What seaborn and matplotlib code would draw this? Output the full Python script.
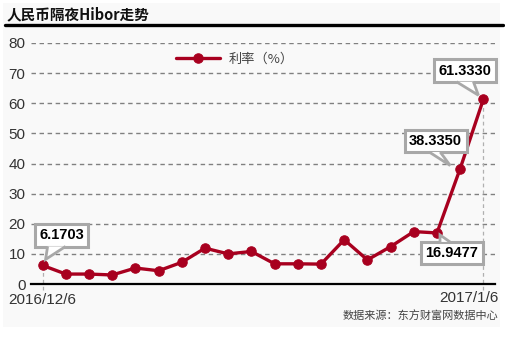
import numpy as np
import pandas as pd
import matplotlib
matplotlib.use("Agg")
import matplotlib.pyplot as plt
import seaborn as sns
from matplotlib.patches import Rectangle, Polygon
from matplotlib.lines import Line2D
from matplotlib.transforms import IdentityTransform

# data
dates = ['2016/12/6', '2016/12/7', '2016/12/8', '2016/12/9', '2016/12/12',
         '2016/12/13', '2016/12/14', '2016/12/15', '2016/12/16', '2016/12/19',
         '2016/12/20', '2016/12/21', '2016/12/22', '2016/12/23', '2016/12/28',
         '2016/12/30', '2017/1/3', '2017/1/4', '2017/1/5', '2017/1/6']
rates = [6.1703, 3.3, 3.3, 3.0, 5.3, 4.4, 7.2, 11.9, 10.0, 10.8,
         6.7, 6.7, 6.6, 14.7, 8.0, 12.4, 17.4, 16.9477, 38.3350, 61.3330]
# points that get a callout box
labelled = [0, 17, 18, 19]

df = pd.DataFrame({'idx': np.arange(len(dates)), 'date': dates, 'rate': rates})

sns.set_theme(style="white")
plt.rcParams['font.family'] = ['Liberation Sans', 'Noto Sans CJK SC', 'DejaVu Sans']
cjk = ['Noto Sans CJK SC', 'DejaVu Sans']
red = '#a8001f'
boxgray = '#a8a8a8'

fig = plt.figure(figsize=(5.06, 3.58), dpi=100)
fig.patch.set_facecolor('white')
fig.patches.append(Rectangle((3 / 506, 1 - 327 / 358), 497 / 506, 324 / 358,
                             transform=fig.transFigure, fc='#f9f9f9', ec='none', zorder=-5))
ax = fig.add_axes([31 / 506, 1 - 284 / 358, 464 / 506, 241 / 358])
ax.set_facecolor('none')

# title and rule
fig.text(7 / 506, 1 - 14 / 358, '人民币隔夜Hibor走势', fontsize=10.5, fontweight='bold',
         family=cjk, va='center', ha='left', color='#111')
fig.add_artist(Line2D([5 / 506, 503 / 506], [1 - 25 / 358] * 2, color='black', lw=2.4,
                      transform=fig.transFigure))

sns.lineplot(data=df, x='idx', y='rate', ax=ax, color=red, lw=2.4, marker='o',
             markersize=6.8, markeredgecolor=red, label='利率（%）', clip_on=False, zorder=5)

ax.set_xlim(-0.5, len(dates) - 0.5)
ax.set_ylim(0, 80)
ax.set_yticks(np.arange(0, 81, 10))
ax.set_xticks(np.arange(-0.5, len(dates), 1))
ax.set_xticklabels([])
ax.tick_params(axis='x', direction='in', length=4.5, width=1.3, color='black')
ax.tick_params(axis='y', length=0, pad=4, labelsize=11, labelcolor='#333')
for s in ['top', 'right', 'left']:
    ax.spines[s].set_visible(False)
ax.spines['bottom'].set_color('black')
ax.spines['bottom'].set_linewidth(1.6)
ax.yaxis.grid(True, color='#808080', lw=1.0, linestyle=(0, (3.2, 2.6)))
ax.set_axisbelow(True)
ax.set_xlabel('')
ax.set_ylabel('')

# vertical guides at first and last point
for i in [0, len(dates) - 1]:
    ax.vlines(i, -2, rates[i], color='#b0b0b0', lw=0.9, linestyle=(0, (3, 2.5)),
              clip_on=False, zorder=1)

# date labels
ax.text(0, -5.3, dates[0], ha='center', va='center', fontsize=11, color='#333')
ax.text(1.007, -4.8, dates[-1], transform=ax.get_yaxis_transform(), ha='right',
        va='center', fontsize=11, color='#333')
fig.text(498 / 506, 1 - 315 / 358, '数据来源：东方财富网数据中心', family=cjk,
         fontsize=8, color='#444', ha='right', va='center')

# callouts: box centre offset and tail shape, pixels relative to the point (y up)
box_off = {0: (19, 30), 17: (15, -20), 18: (-24.5, 27.5), 19: (-18.5, 28.5)}
tail_off = {0: [(5, 19), (3, 6), (23, 19)],
            17: [(3, -9), (3, -2), (13, -9)],
            18: [(-31, 16.5), (-10, 3), (-20, 16.5)],
            19: [(-27, 17.5), (-5, 4), (-10, 17.5)]}
for i in labelled:
    ax.annotate(f'{rates[i]:.4f}', xy=(i, rates[i]), xytext=box_off[i],
                textcoords='offset pixels', ha='center', va='center',
                family='Liberation Sans', fontweight='bold',
                fontsize=10.5, color='black', zorder=7,
                bbox=dict(boxstyle='square,pad=0.3', fc='white', ec=boxgray, lw=2.2))
    px, py = ax.transData.transform((i, rates[i]))
    verts = [(px + x, py + y) for x, y in tail_off[i]]
    fig.add_artist(Polygon(verts, closed=False, fc='white', ec=boxgray, lw=2.0,
                           transform=IdentityTransform(), zorder=8))

leg = ax.legend(loc='center left', bbox_to_anchor=(0.3125, 0.934), frameon=False,
                borderaxespad=0, borderpad=0, handlelength=3.3, handletextpad=0.7,
                prop={'family': cjk, 'size': 9.5})
for t in leg.get_texts():
    t.set_color('#444')

fig.savefig('out.png', dpi=100)
